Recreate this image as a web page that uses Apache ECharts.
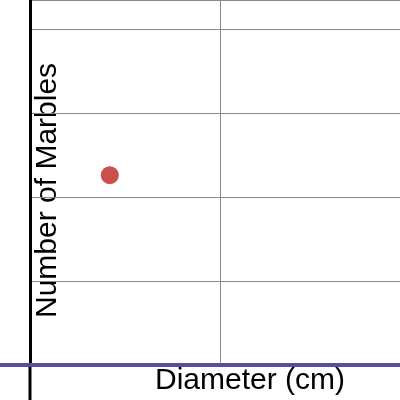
<!DOCTYPE html>
<html>
<head>
<meta charset="UTF-8">
<script src="https://cdn.jsdelivr.net/npm/echarts@6/dist/echarts.min.js"></script>
</head>
<body style="margin:0">
<div id="myChart" style="width:400px;height:400px;"></div>
<script>
// data
const points = [[0.42, 2.26]];
const xName = 'Diameter (cm)';
const yName = 'Number of Marbles';

const chart = echarts.init(document.getElementById('myChart'));
chart.setOption({
    animation: false,
    grid: { left: 30, right: 0, top: 0, bottom: 35 },
    xAxis: {
        type: 'value', min: 0, max: 1.947, interval: 1,
        axisLine: { lineStyle: { color: '#5a4e9c', width: 4 } },
        axisTick: { show: false }, axisLabel: { show: false },
        splitLine: { lineStyle: { color: '#888', width: 1 } }
    },
    yAxis: {
        type: 'value', min: 0, max: 4.345, interval: 1,
        axisLine: { show: true, lineStyle: { color: '#000', width: 3 } },
        axisTick: { show: false }, axisLabel: { show: false },
        splitLine: { lineStyle: { color: '#888', width: 1 } }
    },
    graphic: [
        { type: 'line', shape: { x1: 0, y1: 365, x2: 30, y2: 365 }, style: { stroke: '#5a4e9c', lineWidth: 4 } },
        { type: 'line', shape: { x1: 30, y1: 365, x2: 30, y2: 400 }, style: { stroke: '#000', lineWidth: 3 } },
        { type: 'text', left: 155, top: 366, style: { text: xName, font: '30px Arial', fill: '#000' } },
        { type: 'text', x: 33, y: 318, rotation: Math.PI / 2, style: { text: yName, font: '30px Arial', fill: '#000' } }
    ],
    series: [{
        type: 'scatter', data: points, symbolSize: 18,
        itemStyle: { color: '#c9504c', opacity: 1 }
    }]
});
</script>
</body>
</html>
